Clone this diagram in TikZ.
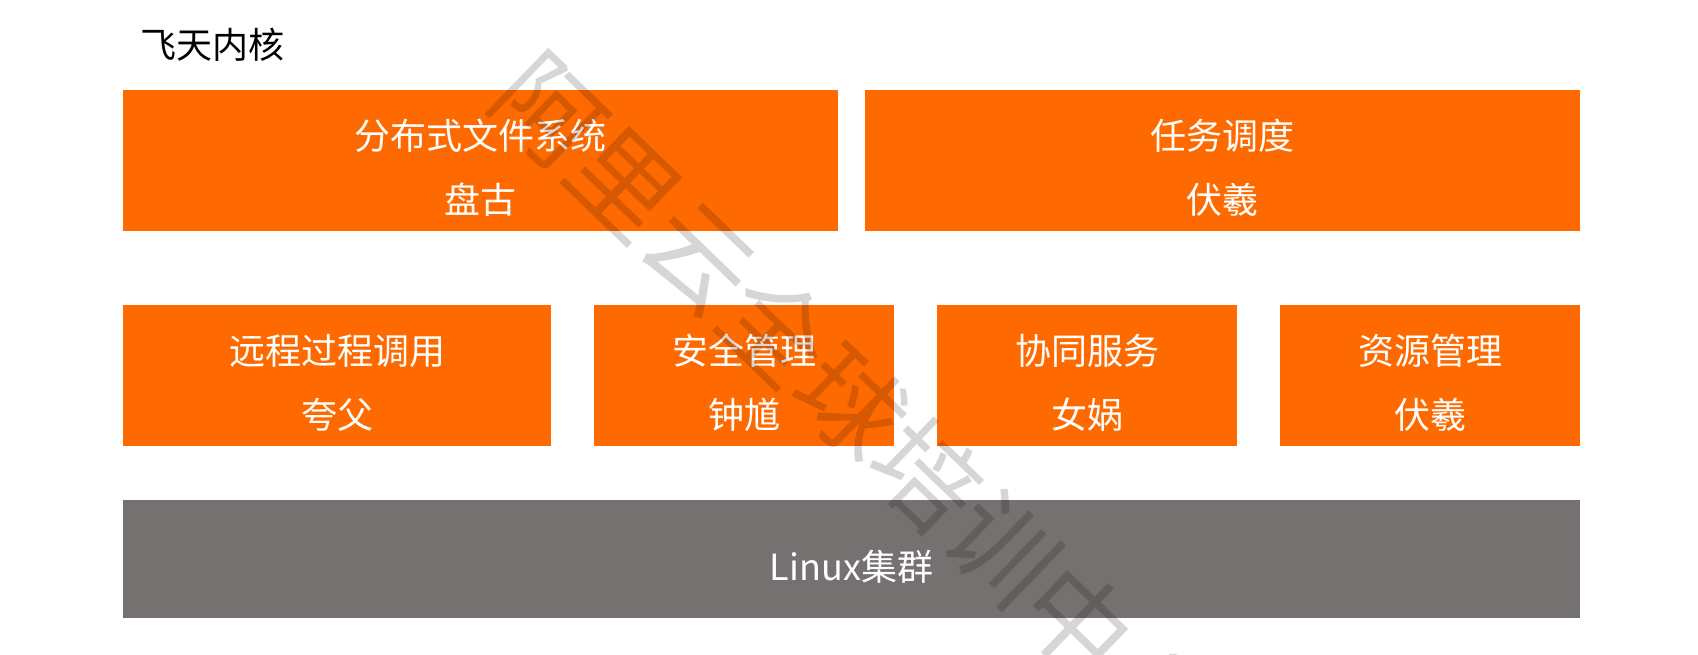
\documentclass[tikz,border=0pt]{standalone}
\usepackage{fontspec}
\setmainfont{Noto Sans CJK SC}
\newfontfamily\wmfont{Noto Sans CJK SC}
\definecolor{aliorange}{HTML}{FF6A00}
\definecolor{linuxgray}{HTML}{767171}
\tikzset{
  obox/.style={fill=aliorange, draw=none, inner sep=0, minimum height=141pt},
  gbox/.style={fill=linuxgray, draw=none, inner sep=0},
  lbl/.style={anchor=base, text=white, font=\fontsize{36}{40}\selectfont, inner sep=0},
  ttl/.style={anchor=base, text=black, font=\fontsize{36}{40}\selectfont, inner sep=0},
  wm/.style={text=black, text opacity=0.16, font=\wmfont\fontsize{105}{110}\selectfont, inner sep=0}
}
\begin{document}
\begin{tikzpicture}[x=1pt,y=-1pt]
\useasboundingbox (0,0) rectangle (1698,654);
% title
\node[ttl] (title) at (212.5,58) {飞天内核};
% top row
\node[obox, minimum width=715pt] (dfs) at (480.5,160.5) {};
\node[lbl] (dfsA) at (480.5,149) {分布式文件系统};
\node[lbl] (dfsB) at (480.5,213.5) {盘古};
\node[obox, minimum width=715pt] (sched) at (1222.5,160.5) {};
\node[lbl] (schedA) at (1222.5,149) {任务调度};
\node[lbl] (schedB) at (1222.5,213.5) {伏羲};
% middle row
\node[obox, minimum width=428pt] (rpc) at (337,375.5) {};
\node[lbl] (rpcA) at (337,364) {远程过程调用};
\node[lbl] (rpcB) at (337,428.5) {夸父};
\node[obox, minimum width=300pt] (sec) at (744,375.5) {};
\node[lbl] (secA) at (744,364) {安全管理};
\node[lbl] (secB) at (744,428.5) {钟馗};
\node[obox, minimum width=300pt] (coord) at (1087,375.5) {};
\node[lbl] (coordA) at (1087,364) {协同服务};
\node[lbl] (coordB) at (1087,428.5) {女娲};
\node[obox, minimum width=300pt] (res) at (1430,375.5) {};
\node[lbl] (resA) at (1430,364) {资源管理};
\node[lbl] (resB) at (1430,428.5) {伏羲};
% bottom
\node[gbox, minimum width=1457pt, minimum height=118pt] (linux) at (851.5,559) {};
\node[lbl] (linuxA) at (851.5,580) {Linux集群};
% watermark
\begin{scope}
\clip (0,0) rectangle (1698,654);
\node[wm, rotate=-44] (mark) at (852,402) {阿里云全球培训中心};
\end{scope}
\end{tikzpicture}
\end{document}
